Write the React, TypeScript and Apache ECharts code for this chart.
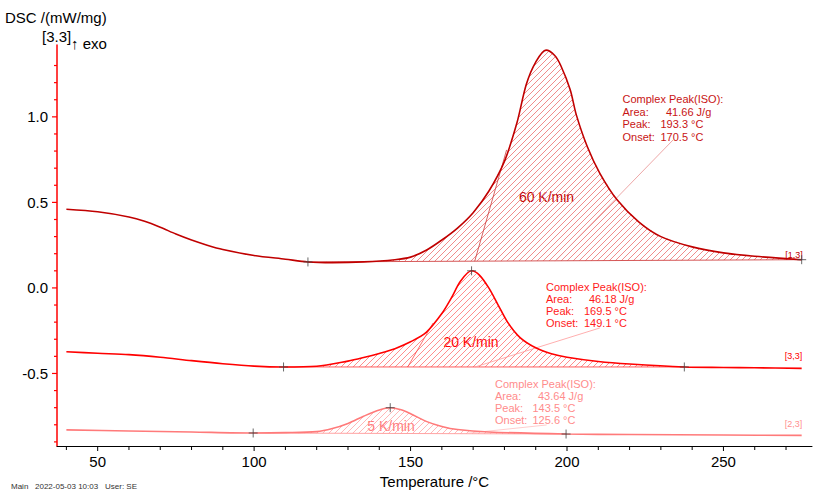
import React, { useEffect, useRef } from "react";
import * as echarts from "echarts";

// DSC runs at three heating rates: temperature (°C) and signal (mW/mg)
const temp60 = [40, 50, 60, 65, 70, 75, 80, 85, 90, 100, 110, 117.2, 125, 135, 145, 150, 155, 160, 165, 170, 175, 180, 184, 187, 190, 193.3, 196, 198, 201, 203, 206.5, 210.5, 216, 223, 230, 240, 250, 260, 275];
const dsc60 = [0.46, 0.445, 0.415, 0.39, 0.355, 0.315, 0.28, 0.25, 0.225, 0.19, 0.168, 0.152, 0.148, 0.152, 0.165, 0.18, 0.22, 0.28, 0.35, 0.44, 0.565, 0.74, 0.965, 1.19, 1.32, 1.39, 1.36, 1.3, 1.16, 1.01, 0.825, 0.67, 0.515, 0.385, 0.3, 0.24, 0.205, 0.185, 0.165];

const temp20 = [40, 50, 60, 70, 80, 90, 100, 109.4, 120, 130, 135, 140, 145, 150, 155, 160, 163, 166, 169.5, 172, 175, 178, 181, 185, 190, 195, 200, 210, 220, 237.5, 250, 260, 275];
const dsc20 = [-0.373, -0.382, -0.39, -0.405, -0.425, -0.443, -0.457, -0.462, -0.458, -0.428, -0.407, -0.383, -0.355, -0.315, -0.26, -0.15, -0.06, 0.04, 0.1, 0.075, 0.0, -0.1, -0.2, -0.29, -0.35, -0.385, -0.405, -0.43, -0.445, -0.462, -0.465, -0.467, -0.47];

const temp5 = [40, 60, 80, 99.7, 110, 120, 125, 130, 135, 140, 143.5, 147, 150, 155, 160, 165, 175, 199.7, 220, 250, 275];
const dsc5 = [-0.83, -0.836, -0.842, -0.848, -0.846, -0.84, -0.822, -0.792, -0.75, -0.713, -0.7, -0.712, -0.735, -0.78, -0.81, -0.828, -0.842, -0.854, -0.857, -0.86, -0.862];

// integration limits of each peak (°C)
const limits60 = [117.2, 275];
const limits20 = [109.4, 237.5];
const limits5 = [99.7, 199.7];

// peak evaluation results
const rateLabels = ["60 K/min", "20 K/min", "5 K/min"];
const peakAreas = [41.66, 46.18, 43.64];
const peakTemps = [193.3, 169.5, 143.5];
const onsetTemps = [170.5, 149.1, 125.6];
const endLabels = ["[1,3]", "[3,3]", "[2,3]"];

// onset tangents and leader lines [temperature, signal]
const tangent60 = [[170.5, 0.156], [180.7, 0.807]];
const tangent20 = [[149.1, -0.462], [157.2, -0.205]];
const leader60 = [[233.9, 0.865], [196.2, 0.156]];
const leader20 = [[210.5, -0.234], [170.6, -0.462]];
const leader5 = [[193.5, -0.801], [168, -0.85]];

// axis ticks
const xTicks = [40, 50, 60, 70, 80, 90, 100, 110, 120, 130, 140, 150, 160, 170, 180, 190, 200, 210, 220, 230, 240, 250, 260, 270];
const yTicks = [-0.9, -0.8, -0.7, -0.6, -0.5, -0.4, -0.3, -0.2, -0.1, 0, 0.1, 0.2, 0.3, 0.4, 0.5, 0.6, 0.7, 0.8, 0.9, 1.0, 1.1, 1.2, 1.3];

const X_MIN = 37;
const X_MAX = 278.3;
const Y_MIN = -0.924;
const Y_MAX = 1.42;

const FONT = '"Liberation Sans", Arial, sans-serif';
const C60 = "#c00000";
const C20 = "#ff0000";
const C5 = "#ff7a7a";
const SMOOTH = 0.3;

function pairs(t: number[], v: number[]) {
  return t.map((x, i) => [x, v[i]]);
}

function valueAt(t: number[], v: number[], x: number) {
  return v[t.indexOf(x)];
}

function txt(x: number, y: number, text: string, size: number, fill: string, align = "left") {
  return {
    type: "text",
    x,
    y,
    silent: true,
    style: {
      text,
      fill,
      font: `${size}px ${FONT}`,
      align,
      textAlign: align,
      verticalAlign: "middle",
      textVerticalAlign: "middle",
    },
  };
}

function resultBlock(i: number, x: number, y: number, dy: number, areaX: number, valX: number, color: string) {
  return [
    txt(x, y, "Complex Peak(ISO):", 11, color),
    txt(x, y + dy, "Area:", 11, color),
    txt(areaX, y + dy, `${peakAreas[i].toFixed(2)} J/g`, 11, color),
    txt(x, y + 2 * dy, "Peak:", 11, color),
    txt(valX, y + 2 * dy, `${peakTemps[i].toFixed(1)} °C`, 11, color),
    txt(x, y + 3 * dy, "Onset:", 11, color),
    txt(valX, y + 3 * dy, `${onsetTemps[i].toFixed(1)} °C`, 11, color),
  ];
}

function curveSeries(name: string, data: number[][], color: string) {
  return {
    name,
    type: "line",
    data,
    smooth: SMOOTH,
    symbol: "none",
    silent: true,
    z: 5,
    lineStyle: { color, width: 1.6 },
  };
}

function thinLine(data: any[], color: string, width = 0.8, z = 4, id?: string) {
  return {
    id,
    type: "line",
    data,
    symbol: "none",
    silent: true,
    connectNulls: false,
    z,
    lineStyle: { color, width },
  };
}

function baseline(t: number[], v: number[], lim: number[]) {
  return [
    [lim[0], valueAt(t, v, lim[0])],
    [lim[1], valueAt(t, v, lim[1])],
  ];
}

// Diagonal hatching between a curve and its straight integration baseline.
// Segments are found in pixel space and mapped back to data coordinates.
function hatchData(chart: any, t: number[], v: number[], lim: number[]) {
  const toPx = (p: number[]) => chart.convertToPixel({ gridIndex: 0 }, p) as number[];
  const fromPx = (p: number[]) => chart.convertFromPixel({ gridIndex: 0 }, p) as number[];
  const i0 = t.indexOf(lim[0]);
  const i1 = t.indexOf(lim[1]);
  const poly: number[][] = [];
  for (let i = i0; i <= i1; i++) poly.push(toPx([t[i], v[i]]));
  const step = 6;
  let minC = Infinity;
  let maxC = -Infinity;
  for (const p of poly) {
    const c = p[0] + p[1];
    if (c < minC) minC = c;
    if (c > maxC) maxC = c;
  }
  const out: any[] = [];
  for (let c = Math.ceil(minC / step) * step; c <= maxC; c += step) {
    const xs: number[] = [];
    for (let k = 0; k < poly.length; k++) {
      const a = poly[k];
      const b = poly[(k + 1) % poly.length];
      const fa = a[0] + a[1] - c;
      const fb = b[0] + b[1] - c;
      if ((fa < 0) !== (fb < 0)) {
        const s = fa / (fa - fb);
        xs.push(a[0] + s * (b[0] - a[0]));
      }
    }
    xs.sort((m, n) => m - n);
    for (let k = 0; k + 1 < xs.length; k += 2) {
      out.push(fromPx([xs[k], c - xs[k]]));
      out.push(fromPx([xs[k + 1], c - xs[k + 1]]));
      out.push(["-", "-"]);
    }
  }
  return out;
}

export default function App() {
  const ref = useRef<HTMLDivElement>(null);

  useEffect(() => {
    if (!ref.current) return;
    const chart = echarts.init(ref.current, undefined, { renderer: "svg" });

    const crosses = [
      [limits60[0], valueAt(temp60, dsc60, limits60[0])],
      [limits60[1], valueAt(temp60, dsc60, limits60[1])],
      [limits20[0], valueAt(temp20, dsc20, limits20[0])],
      [peakTemps[1], valueAt(temp20, dsc20, peakTemps[1])],
      [limits20[1], valueAt(temp20, dsc20, limits20[1])],
      [limits5[0], valueAt(temp5, dsc5, limits5[0])],
      [peakTemps[2], valueAt(temp5, dsc5, peakTemps[2])],
      [limits5[1], valueAt(temp5, dsc5, limits5[1])],
    ];

    const option: any = {
      animation: false,
      backgroundColor: "#ffffff",
      textStyle: { fontFamily: FONT },
      grid: { left: 57, right: 12, top: 45, bottom: 46, containLabel: false, outerBoundsMode: "none" },
      xAxis: {
        type: "value",
        min: X_MIN,
        max: X_MAX,
        name: "Temperature /°C",
        nameLocation: "middle",
        nameGap: 24,
        nameTextStyle: { color: "#000", fontSize: 15, fontFamily: FONT },
        axisLine: { show: true, onZero: false, lineStyle: { color: "#000", width: 1 } },
        axisTick: { show: false },
        minorTick: { show: false },
        splitLine: { show: false },
        axisLabel: { color: "#000", fontSize: 15, fontFamily: FONT, margin: 8, showMinLabel: false, showMaxLabel: false },
      },
      yAxis: {
        type: "value",
        min: Y_MIN,
        max: Y_MAX,
        axisLine: { show: true, onZero: false, lineStyle: { color: "#ff0000", width: 1.5 } },
        axisTick: { show: false },
        minorTick: { show: false },
        splitLine: { show: false },
        axisLabel: {
          color: "#000",
          fontSize: 15,
          fontFamily: FONT,
          margin: 9,
          showMinLabel: false,
          showMaxLabel: false,
          formatter: (v: number) => v.toFixed(1),
        },
      },
      series: [
        thinLine([], "#ec6f6f", 0.8, 2, "hatch60"),
        thinLine([], "#ff7070", 0.8, 2, "hatch20"),
        thinLine([], "#ffa4a4", 0.8, 2, "hatch5"),
        thinLine(baseline(temp60, dsc60, limits60), "#d04545", 0.9, 3),
        thinLine(baseline(temp20, dsc20, limits20), "#ff4a4a", 0.9, 3),
        thinLine(baseline(temp5, dsc5, limits5), "#ff9a9a", 0.9, 3),
        thinLine(tangent60, "#cc3a3a"),
        thinLine(tangent20, "#ff4a4a"),
        thinLine(leader60, "#e89090"),
        thinLine(leader20, "#ff9a9a"),
        thinLine(leader5, "#ffc0c0"),
        curveSeries("60 K/min", pairs(temp60, dsc60), C60),
        curveSeries("20 K/min", pairs(temp20, dsc20), C20),
        curveSeries("5 K/min", pairs(temp5, dsc5), C5),
        {
          type: "scatter",
          data: crosses,
          symbol: "path://M0,5H10M5,0V10",
          symbolSize: 9,
          silent: true,
          z: 6,
          itemStyle: { color: "rgba(0,0,0,0)", borderColor: "#444", borderWidth: 1 },
        },
        {
          type: "custom",
          silent: true,
          clip: false,
          z: 7,
          data: xTicks.map((v) => [v, Y_MIN]),
          renderItem: (_p: any, api: any) => {
            const v = api.value(0);
            const p = api.coord([v, Y_MIN]);
            const len = v % 50 === 0 ? 5 : 4;
            return {
              type: "line",
              shape: { x1: p[0], y1: p[1], x2: p[0], y2: p[1] + len },
              style: { stroke: "#000", lineWidth: 1 },
            };
          },
        },
        {
          type: "custom",
          silent: true,
          clip: false,
          z: 7,
          data: yTicks.map((v) => [X_MIN, v]),
          renderItem: (_p: any, api: any) => {
            const v = api.value(1);
            const p = api.coord([X_MIN, v]);
            const major = Math.abs(v * 2 - Math.round(v * 2)) < 1e-6;
            const len = major ? 5 : 3;
            return {
              type: "line",
              shape: { x1: p[0] - len, y1: p[1], x2: p[0], y2: p[1] },
              style: { stroke: "#ff0000", lineWidth: 1.2 },
            };
          },
        },
      ],
      graphic: [
        txt(5, 17, "DSC /(mW/mg)", 15, "#000"),
        txt(42, 36, "[3.3]", 15, "#000"),
        txt(71, 43, "↑ exo", 15, "#000"),
        txt(546.5, 197, rateLabels[0], 14, C60, "center"),
        txt(471, 342, rateLabels[1], 14, C20, "center"),
        txt(391, 426, rateLabels[2], 14, C5, "center"),
        ...resultBlock(0, 622.5, 99, 12.5, 666, 660.5, "#c81414"),
        ...resultBlock(1, 546, 286.5, 12.3, 589, 584, "#ff1a1a"),
        ...resultBlock(2, 495, 384, 12, 538, 532.5, "#ff8c8c"),
        txt(794, 255, endLabels[0], 9, C60, "center"),
        txt(793.5, 356, endLabels[1], 9, C20, "center"),
        txt(793.5, 424, endLabels[2], 9, "#ff9090", "center"),
        txt(11, 486, "Main", 8, "#333"),
        txt(35, 486, "2022-05-03 10:03", 8, "#333"),
        txt(105, 486, "User: SE", 8, "#333"),
      ],
    };

    chart.setOption(option);
    chart.setOption({
      series: [
        { id: "hatch60", data: hatchData(chart, temp60, dsc60, limits60) },
        { id: "hatch20", data: hatchData(chart, temp20, dsc20, limits20) },
        { id: "hatch5", data: hatchData(chart, temp5, dsc5, limits5) },
      ],
    });
    return () => chart.dispose();
  }, []);

  return (
    <div
      ref={ref}
      style={{ position: "fixed", left: 0, top: 0, width: 824, height: 492, background: "#fff" }}
    />
  );
}
